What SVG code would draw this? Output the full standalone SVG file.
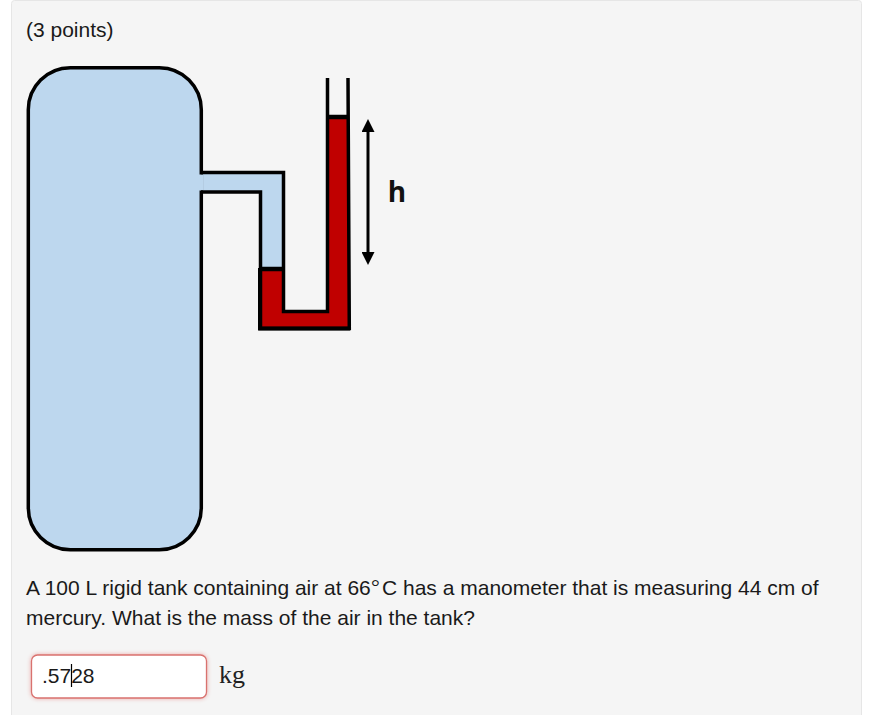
<svg xmlns="http://www.w3.org/2000/svg" width="888" height="715" viewBox="0 0 888 715">
<style>
.t{font-family:"Liberation Sans",Arial,sans-serif;font-size:21px;fill:#1a1a1a}
.s{fill:none;stroke:#000;stroke-width:3.5}
.a{fill:#bdd7ee}
.r{fill:#c00000}
</style>
<defs>
<marker id="ah" markerUnits="userSpaceOnUse" markerWidth="14" markerHeight="13" refX="1" refY="6.500" orient="auto-start-reverse" viewBox="0 0 14 13"><path d="M0 0L13 6.500L0 13Z" fill="#000"/></marker>
</defs>
<rect width="888" height="715" fill="#fff"/>
<g id="panel"><rect x="11.500" y="0.500" width="850" height="730" rx="3" fill="#f5f5f5" stroke="#e6e6e6"/></g>
<text class="t" x="26" y="37">(3 points)</text>
<g id="tank">
<path class="a" d="M202 173H283V268H261V192H202Z"/>
<rect x="28.300" y="67.700" width="173" height="482" rx="42" ry="42" class="a" stroke="#000" stroke-width="3.500"/>
<rect x="199" y="174.500" width="4" height="16" class="a"/>
</g>
<g id="manometer">
<path class="r" d="M260 268H283V312H328V117H349V328H260Z"/>
<path class="s" d="M201 172.500H283.500V311.500H327.500V78"/>
<path class="s" d="M201 192H260.500V328.500H349.300L348 78"/>
<path d="M260 269H285" stroke="#000" stroke-width="4.500" fill="none"/>
<path d="M327 117H349" stroke="#000" stroke-width="4.500" fill="none"/>
<path d="M260 268V328.500H350" fill="none" stroke="#000" stroke-width="4"/>
</g>
<g id="connectors">
<path d="M368 131V253" stroke="#000" stroke-width="3" marker-start="url(#ah)" marker-end="url(#ah)"/>
</g>
<text x="397" y="202" font-family="'Open Sans','DejaVu Sans',sans-serif" font-weight="700" font-size="28" text-anchor="middle" fill="#111">h</text>
<text class="t" x="26" y="595">A 100 L rigid tank containing air at 66</text>
<text x="371" y="593.500" font-family="'Liberation Serif',serif" font-size="22" fill="#1a1a1a">°</text>
<text class="t" x="382" y="595">C has a manometer that is measuring 44 cm of</text>
<text class="t" x="26" y="625">mercury. What is the mass of the air in the tank?</text>
<g id="answer">
<rect x="31.500" y="655" width="175" height="43" rx="6" fill="#fff" stroke="#d9726f" stroke-width="1.300" style="filter:drop-shadow(0 0 2px #eba9a7)"/>
<text class="t" x="42" y="683">.5728</text>
<path d="M71.500 664V687" stroke="#000" stroke-width="1.200"/>
</g>
<text x="219" y="683" font-family="'Liberation Serif',serif" font-size="26" fill="#222">kg</text>
</svg>
